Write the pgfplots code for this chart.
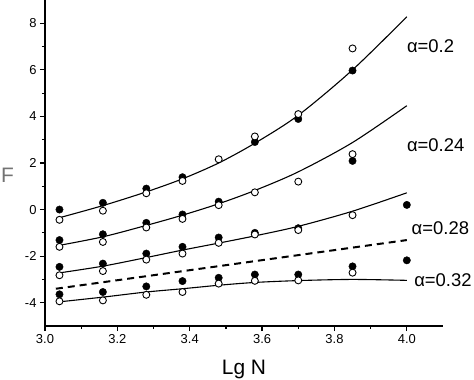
\documentclass[border=0pt]{standalone}
\usepackage{pgfplots}
\pgfplotsset{compat=1.18}
\usepackage{fontspec}
\setmainfont{Liberation Sans}
\begin{document}
\begin{tikzpicture}
\begin{axis}[
  scale only axis,
  width=398bp, height=326bp,
  at={(0,0)}, anchor=south west,
  xmin=3.0, xmax=4.1, ymin=-5, ymax=9,
  axis lines*=left,
  axis line style={-, line width=1.5bp},
  xtick={3.0,3.2,3.4,3.6,3.8,4.0},
  ytick={-4,-2,0,2,4,6,8},
  minor x tick num=1, minor y tick num=1,
  tick align=outside,
  major tick length=5bp, minor tick length=3bp,
  tick style={line width=1.2bp, black},
  xticklabel style={/pgf/number format/fixed, /pgf/number format/fixed zerofill, /pgf/number format/precision=1},
  /pgf/number format/assume math mode=true,
  tick label style={font=\fontsize{13}{15}\selectfont},
  xlabel={Lg N},
  xlabel style={font=\fontsize{21}{24}\selectfont, at={(axis description cs:0.5,-0.132)}, anchor=center},
  ylabel={F},
  ylabel style={font=\fontsize{21}{24}\selectfont, text=black!55, rotate=-90, at={(axis description cs:-0.094,0.463)}, anchor=center},
  clip=false,
]
% curves
\addplot[black, line width=1.1bp, smooth] coordinates {(3.035,-0.37)(3.16,0.17)(3.28,0.76)(3.38,1.32)(3.48,2.00)(3.58,2.85)(3.70,4.05)(3.85,6.00)(4.00,8.28)};
\addplot[black, line width=1.1bp, smooth] coordinates {(3.035,-1.55)(3.16,-1.17)(3.28,-0.68)(3.38,-0.24)(3.48,0.25)(3.58,0.82)(3.70,1.62)(3.85,2.88)(4.00,4.46)};
\addplot[black, line width=1.1bp, smooth] coordinates {(3.035,-2.73)(3.16,-2.43)(3.28,-2.06)(3.38,-1.74)(3.48,-1.44)(3.58,-1.13)(3.70,-0.72)(3.85,-0.07)(4.00,0.72)};
\addplot[black, line width=2bp, dash pattern=on 7bp off 5bp] coordinates {(3.03,-3.40)(4.00,-1.31)};
\addplot[black, line width=1.1bp, smooth] coordinates {(3.035,-3.97)(3.16,-3.76)(3.28,-3.54)(3.38,-3.40)(3.48,-3.25)(3.58,-3.13)(3.70,-3.05)(3.85,-3.00)(4.00,-3.04)};
% filled points
\addplot[only marks, mark=*, mark size=3.7bp, black] coordinates {(3.04,0.0)(3.16,0.29)(3.28,0.90)(3.38,1.39)(3.58,2.90)(3.70,3.89)(3.85,5.97)};
\addplot[only marks, mark=*, mark size=3.7bp, black] coordinates {(3.04,-1.31)(3.16,-1.06)(3.28,-0.57)(3.38,-0.21)(3.48,0.34)(3.85,2.09)};
\addplot[only marks, mark=*, mark size=3.7bp, black] coordinates {(3.04,-2.46)(3.16,-2.32)(3.28,-1.89)(3.38,-1.60)(3.48,-1.20)(3.58,-1.00)(3.70,-0.80)(4.00,0.20)};
\addplot[only marks, mark=*, mark size=3.7bp, black] coordinates {(3.04,-3.64)(3.16,-3.54)(3.28,-3.30)(3.38,-3.07)(3.48,-2.93)(3.58,-2.79)(3.70,-2.79)(3.85,-2.44)(4.00,-2.18)};
% open points
\addplot[only marks, mark=*, mark size=3.5bp, mark options={fill=white, draw=black, line width=0.9bp}] coordinates {(3.04,-0.44)(3.16,-0.05)(3.28,0.70)(3.38,1.23)(3.48,2.16)(3.58,3.14)(3.70,4.10)(3.85,6.92)};
\addplot[only marks, mark=*, mark size=3.5bp, mark options={fill=white, draw=black, line width=0.9bp}] coordinates {(3.04,-1.60)(3.16,-1.39)(3.28,-0.77)(3.38,-0.40)(3.48,0.19)(3.58,0.74)(3.70,1.20)(3.85,2.38)};
\addplot[only marks, mark=*, mark size=3.5bp, mark options={fill=white, draw=black, line width=0.9bp}] coordinates {(3.04,-2.82)(3.16,-2.64)(3.28,-2.15)(3.38,-1.89)(3.48,-1.43)(3.58,-1.07)(3.70,-0.88)(3.85,-0.24)};
\addplot[only marks, mark=*, mark size=3.5bp, mark options={fill=white, draw=black, line width=0.9bp}] coordinates {(3.04,-3.94)(3.16,-3.90)(3.28,-3.66)(3.38,-3.54)(3.48,-3.18)(3.58,-3.06)(3.70,-3.04)(3.85,-2.71)};
% labels
\node[anchor=west, inner sep=0pt, font=\fontsize{18.5}{21}\selectfont] at (axis cs:4.0,7.02) {α=0.2};
\node[anchor=west, inner sep=0pt, font=\fontsize{18.5}{21}\selectfont] at (axis cs:4.0,2.75) {α=0.24};
\node[anchor=west, inner sep=0pt, font=\fontsize{18.5}{21}\selectfont] at (axis cs:4.013,-0.81) {α=0.28};
\node[anchor=west, inner sep=0pt, font=\fontsize{18.5}{21}\selectfont] at (axis cs:4.02,-3.01) {α=0.32};
\end{axis}
\pgfresetboundingbox
\path[use as bounding box] (-45bp,-54bp) rectangle (429bp,326bp);
\end{tikzpicture}
\end{document}
